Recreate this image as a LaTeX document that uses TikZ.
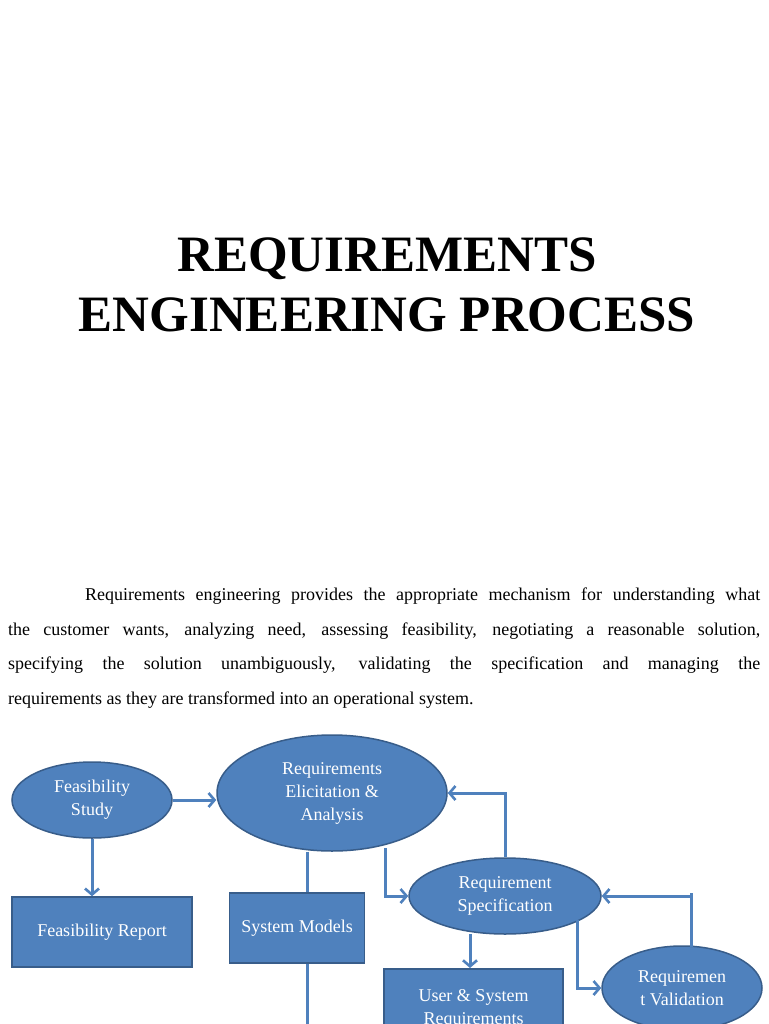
\documentclass[tikz,border=0pt]{standalone}
\usepackage{fontspec}
\setmainfont{Liberation Serif}
\usetikzlibrary{arrows.meta,shapes.geometric}
\definecolor{bfill}{HTML}{4F81BD}
\definecolor{bdraw}{HTML}{385D8A}
\begin{document}
\begin{tikzpicture}[x=1pt,y=-1pt,
  ell/.style={ellipse,fill=bfill,draw=bdraw,line width=1.5pt,text=white,align=center,font=\fontsize{18}{23}\selectfont,inner sep=0pt},
  box/.style={rectangle,fill=bfill,draw=bdraw,line width=1.5pt,text=white,align=center,font=\fontsize{18}{23}\selectfont,inner sep=0pt},
  conn/.style={draw=bfill,line width=3pt},
  arr/.style={conn,-{Straight Barb[length=6pt,width=14pt,line width=2.6pt]}}]
\clip (0,0) rectangle (768,1024);
\fill[white] (0,0) rectangle (768,1024);
\node[font=\fontsize{51}{60}\selectfont\bfseries,align=center] (title) at (387,285) {REQUIREMENTS\\ENGINEERING PROCESS};
\node[text width=752pt,align=justify,anchor=north west,inner sep=0pt,font=\fontsize{18}{34.4}\selectfont] (body) at (8,588)
{\hyphenchar\font=-1\hspace*{77pt}Requirements engineering provides the appropriate mechanism for understanding what\linebreak the customer wants, analyzing need, assessing feasibility, negotiating a reasonable solution,\linebreak specifying the solution unambiguously, validating the specification and managing the\linebreak requirements as they are transformed into an operational system.};
\node[ell,minimum width=160pt,minimum height=76pt] (fs) at (92,800) {Feasibility\\Study};
\node[ell,minimum width=230pt,minimum height=116pt] (re) at (332,793) {Requirements\\Elicitation \&\\Analysis};
\node[box,minimum width=180pt,minimum height=70pt] (fr) at (102,932) {Feasibility Report};
\node[box,minimum width=135pt,minimum height=70pt] (sm) at (297,928) {System Models};
\node[ell,minimum width=192pt,minimum height=76pt] (rs) at (505,896) {Requirement\\Specification};
\node[box,minimum width=179pt,minimum height=80pt,anchor=north] (us) at (473.5,968) {User \& System\\Requirements};
\node[ell,minimum width=160pt,minimum height=84pt] (rv) at (682,988) {Requiremen\\t Validation};
\coordinate (bot) at (307,1030);
\draw[arr] (fs.east) -- (re.west |- fs.east);
\draw[arr] (fs.south) -- (fs.south |- fr.north);
\draw[conn] (re.south -| sm.north) ++(10,0) coordinate (a) -- (a |- sm.north);
\draw[conn] (sm.south) ++(10,0) coordinate (b) -- (b |- bot);
\draw[arr] (385,848) |- (rs.west);
\draw[arr] (rs.north) |- (re.east);
\draw[arr] (470,934) -- (470,968);
\draw[arr] (577,920) |- (rv.west);
\draw[arr] (691,947) |- (rs.east);
\draw[conn] (691,893) -- (691,900);
\end{tikzpicture}
\end{document}
